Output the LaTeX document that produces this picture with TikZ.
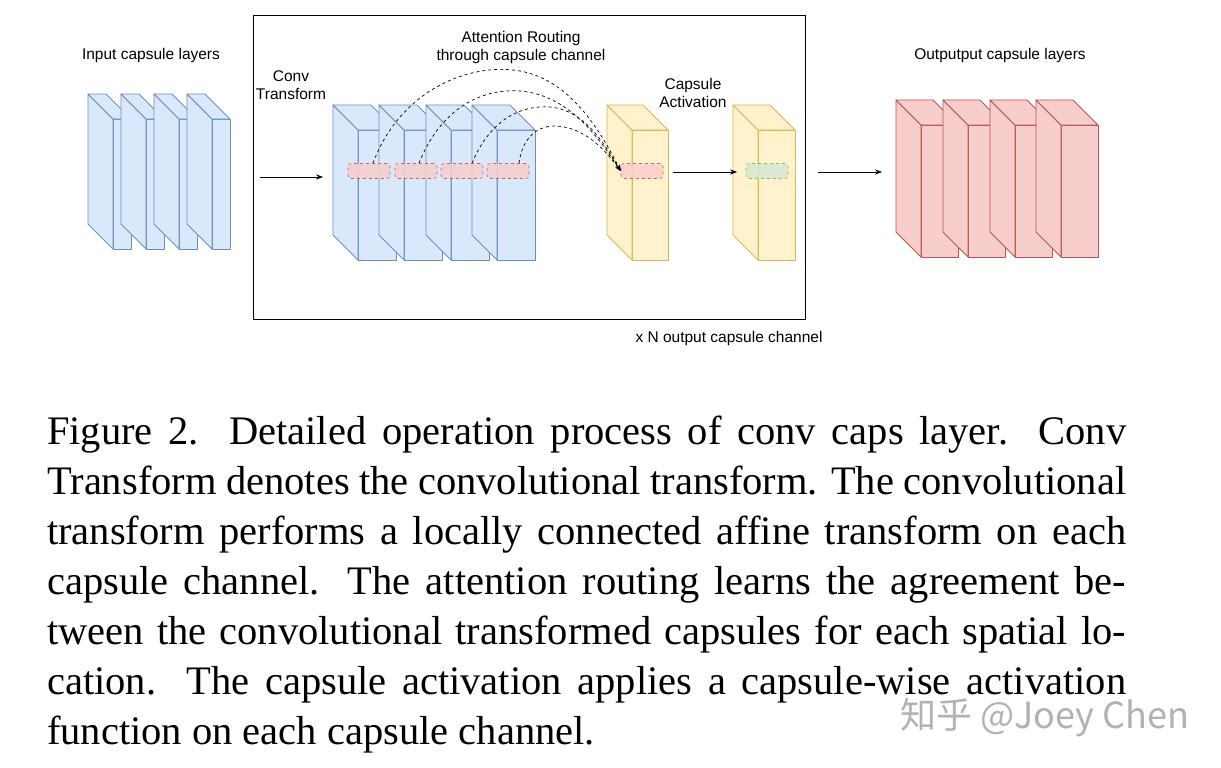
\documentclass[tikz,border=0pt]{standalone}
\usepackage{fontspec}
\setmainfont{Liberation Serif}
\setsansfont{Liberation Sans}
\newfontfamily\cjk{Noto Sans CJK SC}
\usetikzlibrary{calc,arrows.meta}
\definecolor{bfill}{HTML}{DAE8FC}\definecolor{bline}{HTML}{6C8EBF}
\definecolor{yfill}{HTML}{FFF2CC}\definecolor{yline}{HTML}{D6B656}
\definecolor{rfill}{HTML}{F8CECC}\definecolor{rline}{HTML}{B85450}
\definecolor{gfill}{HTML}{D5E8D4}\definecolor{gline}{HTML}{82B366}
\newcommand\cslab[6]{%
\filldraw[fill=#6fill,draw=#6line,line width=0.9pt,line join=round] (#1,#2) rectangle ++(#3,#4);
\filldraw[fill=#6fill,draw=#6line,line width=0.9pt,line join=round] (#1,#2) -- ++(-#5,-#5) -- ++(0,#4) -- ++(#5,#5) -- cycle;
\filldraw[fill=#6fill,draw=#6line,line width=0.9pt,line join=round] (#1,#2) -- ++(-#5,-#5) -- ++(#3,0) -- ++(#5,#5) -- cycle;}
\newcommand\capline[2]{\node[anchor=base west,inner sep=0,font=\fontsize{40.5}{50}\selectfont] (cap#1) at (47,{394+50*#1}) {\makebox[1079pt][s]{#2}};}
\tikzset{x=1pt,y=-1pt,
lbl/.style={font=\sffamily\fontsize{15.5}{18}\selectfont,align=center,inner sep=0},
dbox/.style={draw=#1line,fill=#1fill,dashed,rounded corners=3pt,minimum width=42pt,minimum height=15pt,inner sep=0,line width=0.6pt,opacity=0.85},
route/.style={dashed,-{Stealth[length=6pt]},line width=0.7pt},
flow/.style={-{Stealth[length=7pt]},line width=0.8pt}}
\begin{document}
\begin{tikzpicture}
\useasboundingbox[fill=white] (0,0) rectangle (1221,768);
% frame
\draw[line width=1pt] (253,16) rectangle (805,319);
% input
\foreach \x in {113,146,179,212}{\cslab{\x}{119}{18}{130}{25}{b}}
% conv transform
\foreach \x in {358,404,451,497}{\cslab{\x}{130}{38}{130}{25}{b}}
\cslab{632}{130}{36}{130}{25}{y}
\cslab{758}{130}{37}{130}{25}{y}
\foreach \x in {921,968,1015,1061}{\cslab{\x}{125}{37}{132}{25}{r}}
% dashed boxes
\node[dbox=r] (d1) at (369,171) {};
\node[dbox=r] (d2) at (416,171) {};
\node[dbox=r] (d3) at (462,171) {};
\node[dbox=r] (d4) at (508,171) {};
\node[dbox=r] (dy) at (642,171) {};
\node[dbox=g] (dg) at (767,171) {};
% routing arrows
\draw[route] ($(d1.north)+(4,0)$) .. controls (400,90) and (470,62) .. (520,71) .. controls (570,80) and (600,130) .. (dy.west);
\draw[route] ($(d2.north)+(3,0)$) .. controls (440,110) and (480,88) .. (520,91) .. controls (570,95) and (600,140) .. (dy.west);
\draw[route] ($(d3.north)+(10,0)$) .. controls (490,120) and (520,105) .. (550,107) .. controls (585,110) and (605,145) .. (dy.west);
\draw[route] ($(d4.north)+(11,0)$) .. controls (522,140) and (535,126) .. (555,126) .. controls (585,127) and (605,150) .. (dy.west);
% flow arrows
\coordinate (a1) at (260,177); \coordinate (a2) at (323,177);
\draw[flow] (a1) -- (a2);
\coordinate (b1) at (673,172); \coordinate (b2) at (737,172);
\draw[flow] (b1) -- (b2);
\coordinate (c1) at (818,172); \coordinate (c2) at (882,172);
\draw[flow] (c1) -- (c2);
% labels
\node[lbl] (l1) at (151,55) {Input capsule layers};
\node[lbl] (l2) at (291,85) {Conv\\Transform};
\node[lbl] (l3) at (521,47) {Attention Routing\\through capsule channel};
\node[lbl] (l4) at (693,93) {Capsule\\Activation};
\node[lbl] (l5) at (1000,55) {Outputput capsule layers};
\node[lbl] (l6) at (729,338) {x N output capsule channel};
% caption
\capline{1}{Figure 2. Detailed operation process of conv caps layer. Conv}
\capline{2}{Transform denotes the convolutional transform. The convolutional}
\capline{3}{transform performs a locally connected affine transform on each}
\capline{4}{capsule channel. The attention routing learns the agreement be-}
\capline{5}{tween the convolutional transformed capsules for each spatial lo-}
\capline{6}{cation. The capsule activation applies a capsule-wise activation}
\node[anchor=base west,inner sep=0,font=\fontsize{40.5}{50}\selectfont] (cap7) at (47,744) {function on each capsule channel.};
\node[font=\cjk\fontsize{36}{40}\selectfont,text=black!30,anchor=base west,inner sep=0] (wm) at (900,728) {知乎 @Joey Chen};
\end{tikzpicture}
\end{document}
